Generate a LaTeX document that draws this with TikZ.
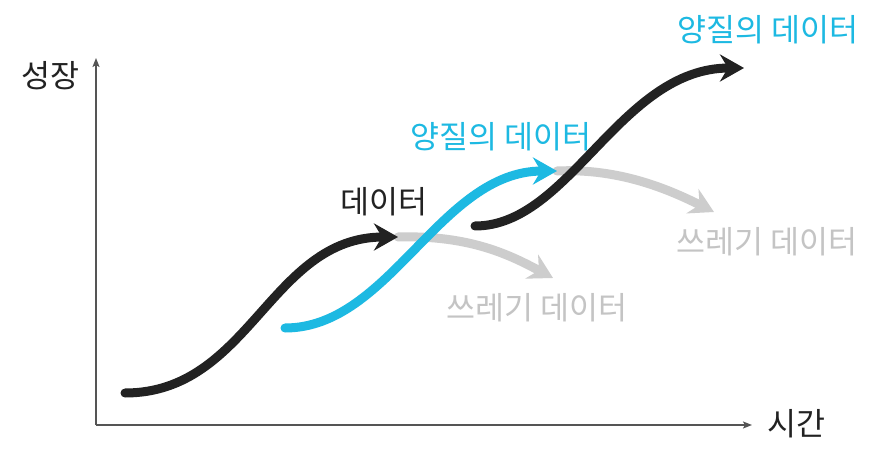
\documentclass[tikz,border=0pt]{standalone}
\usepackage{fontspec}
\newfontfamily\kr{Noto Sans CJK KR}
\usetikzlibrary{arrows.meta}
\definecolor{qblue}{HTML}{1DB9E2}
\definecolor{junk}{HTML}{CDCDCD}
\definecolor{junktext}{HTML}{C4C4C4}
\definecolor{ink}{HTML}{222222}
\definecolor{axisgray}{HTML}{555555}
\begin{document}
\begin{tikzpicture}[x=1pt,y=-1pt,
  curvebase/.style={line width=9pt, line cap=round, -{Stealth[length=24pt,width=27pt,inset=8pt]}},
  curveblack/.style={curvebase, draw=ink},
  curveblue/.style={curvebase, draw=qblue},
  curvegray/.style={curvebase, draw=junk},
  axisline/.style={draw=axisgray, line width=1.8pt, -{Stealth[length=9pt,width=7pt,inset=2pt]}},
  lbl/.style={font=\kr\fontsize{31.5}{33}\selectfont, inner sep=0pt}]
\useasboundingbox (0,0) rectangle (880,465);
\fill[white] (0,0) rectangle (880,465);
% axes
\coordinate (O) at (96,425);
\coordinate (ytop) at (96,58);
\coordinate (xend) at (752,425);
\draw[axisline] (O) -- (ytop);
\draw[axisline] (O) -- (xend);
\node[lbl, text=ink] (ylab) at (50,76) {성장};
\node[lbl, text=ink] (xlab) at (796,424) {시간};
% coordinates
\coordinate (b1s) at (125,393);
\coordinate (b1e) at (398,237);
\coordinate (g1e) at (553,278);
\coordinate (bls) at (285,328);
\coordinate (ble) at (557,171);
\coordinate (g2e) at (714,212);
\coordinate (b2s) at (475,226);
\coordinate (b2e) at (744,68);
% gray continuations
\draw[curvegray] (b1e) .. controls (470,235) and (510,255) .. (g1e);
\draw[curvegray] (ble) .. controls (620,168) and (670,190) .. (g2e);
% main curves
\draw[curveblack] (b1s) .. controls (250,393) and (270,237) .. (b1e);
\draw[curveblue] (bls) .. controls (390,328) and (440,171) .. (ble);
\draw[curveblack] (b2s) .. controls (570,226) and (620,68) .. (b2e);
% labels
\node[lbl, text=ink] (l1) at (384,202) {데이터};
\node[lbl, text=qblue] (l2) at (501,137) {양질의 데이터};
\node[lbl, text=qblue] (l3) at (768,30) {양질의 데이터};
\node[lbl, text=junktext] (l4) at (767,242) {쓰레기 데이터};
\node[lbl, text=junktext] (l5) at (537,308) {쓰레기 데이터};
\end{tikzpicture}
\end{document}
